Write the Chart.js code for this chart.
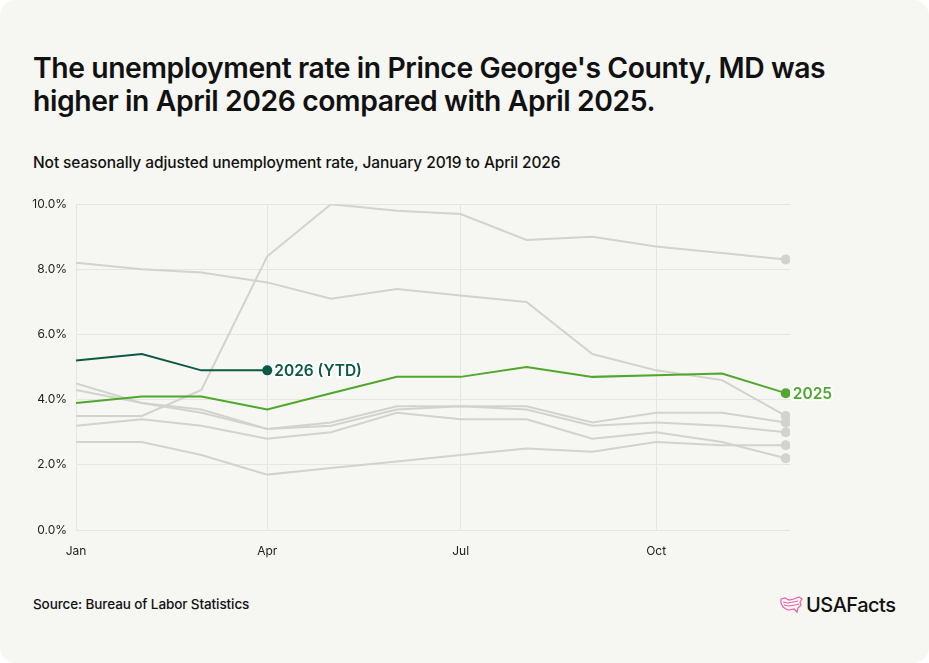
<!DOCTYPE html>
<html lang="en">
<head>
<meta charset="UTF-8">
<title>Prince George's County unemployment</title>
<script src="https://cdn.jsdelivr.net/npm/chart.js"></script>
<style>
    body { margin: 0; background: #ffffff; font-family: 'Inter', 'Roboto', sans-serif; }
    .card {
        position: absolute; left: 0; top: 0; width: 929px; height: 663px;
        background: #f6f6f2; border-radius: 16px; overflow: hidden;
    }
    h1 {
        position: absolute; left: 33px; top: 52px; margin: 0; width: 890px;
        font-size: 28.3px; line-height: 33px; font-weight: 600; color: #111;
        letter-spacing: -0.4px;
    }
    .sub {
        position: absolute; left: 33px; top: 153px; margin: 0;
        font-size: 15.5px; font-weight: 500; color: #111; letter-spacing: -0.1px;
    }
    .chart-box { position: absolute; left: 20px; top: 188px; width: 880px; height: 382px; }
    .source {
        position: absolute; left: 33px; top: 596px;
        font-size: 13.5px; font-weight: 500; color: #111; letter-spacing: -0.1px;
    }
    .logo {
        position: absolute; left: 780px; top: 593px; display: flex; align-items: center; gap: 3px;
        font-size: 20px; font-weight: 500; color: #111; letter-spacing: -0.5px;
    }
</style>
</head>
<body>
<div class="card">
    <h1>The unemployment rate in Prince George's County, MD was<br>higher in April 2026 compared with April 2025.</h1>
    <p class="sub">Not seasonally adjusted unemployment rate, January 2019 to April 2026</p>
    <div class="chart-box"><canvas id="chart" width="880" height="382"></canvas></div>
    <div class="source">Source: Bureau of Labor Statistics</div>
    <div class="logo">
        <svg width="23" height="18" viewBox="0 0 23 18">
            <path d="M1 3 L5 2 L9 4 L14 3 L19 1 L22 3 L20 6 L21 9 L18 12 L17 16 L14 13 L9 14 L6 13 L3 11 L1 7 Z"
                  fill="none" stroke="#ec5fa5" stroke-width="1.2"/>
            <path d="M3 6 L8 7 L13 6 L18 5 M4 9 L9 10 L15 9 L19 8" fill="none" stroke="#ec5fa5" stroke-width="1"/>
        </svg>
        <span>USAFacts</span>
    </div>
</div>

<script>
    const months = ['Jan', 'Feb', 'Mar', 'Apr', 'May', 'Jun', 'Jul', 'Aug', 'Sep', 'Oct', 'Nov', 'Dec'];
    const tickMonths = [0, 3, 6, 9];
    const tickLabels = ['Jan', 'Apr', 'Jul', 'Oct'];
    const yTicks = [0, 2, 4, 6, 8, 10];

    const rate2026 = [5.2, 5.4, 4.9, 4.9];
    const rate2025 = [3.9, 4.1, 4.1, 3.7, 4.2, 4.7, 4.7, 5.0, 4.7, 4.75, 4.8, 4.2];
    const rate2024 = [4.3, 3.9, 3.6, 3.1, 3.2, 3.7, 3.8, 3.7, 3.2, 3.3, 3.2, 3.0];
    const rate2023 = [2.7, 2.7, 2.3, 1.7, 1.9, 2.1, 2.3, 2.5, 2.4, 2.7, 2.6, 2.6];
    const rate2022 = [4.5, 3.9, 3.7, 3.1, 3.3, 3.8, 3.8, 3.8, 3.3, 3.6, 3.6, 3.3];
    const rate2021 = [8.2, 8.0, 7.9, 7.6, 7.1, 7.4, 7.2, 7.0, 5.4, 4.9, 4.6, 3.5];
    const rate2020 = [3.5, 3.5, 4.3, 8.4, 10.0, 9.8, 9.7, 8.9, 9.0, 8.7, 8.5, 8.3];
    const rate2019 = [3.2, 3.4, 3.2, 2.8, 3.0, 3.6, 3.4, 3.4, 2.8, 3.0, 2.7, 2.2];

    // x position = day of year of the first of each month
    function dayOf(m) {
        return (Date.UTC(2025, m, 1) - Date.UTC(2025, 0, 1)) / 86400000;
    }
    function toPoints(arr) {
        return arr.map((v, i) => ({ x: dayOf(i), y: v }));
    }

    const GRAY = '#d2d2ce';
    const GREEN = '#4fa72b';
    const DARK = '#0c5a46';

    function series(label, arr, color, endLabel) {
        return {
            label: label,
            data: toPoints(arr),
            borderColor: color,
            backgroundColor: color,
            borderWidth: 2,
            tension: 0,
            endLabel: endLabel,
            pointRadius: ctx => ctx.dataIndex === arr.length - 1 ? 5 : 0,
            pointBorderWidth: 0,
            pointHoverRadius: 0
        };
    }

    const endLabels = {
        id: 'endLabels',
        afterDatasetsDraw(chart) {
            const ctx = chart.ctx;
            chart.data.datasets.forEach((ds, i) => {
                if (!ds.endLabel) return;
                const meta = chart.getDatasetMeta(i);
                const pt = meta.data[meta.data.length - 1];
                ctx.save();
                ctx.font = '600 15.5px Inter, sans-serif';
                ctx.textBaseline = 'middle';
                ctx.lineJoin = 'round';
                ctx.lineWidth = 4;
                ctx.strokeStyle = '#ffffff';
                ctx.strokeText(ds.endLabel, pt.x + 7, pt.y + 1);
                ctx.fillStyle = ds.borderColor;
                ctx.fillText(ds.endLabel, pt.x + 7, pt.y + 1);
                ctx.restore();
            });
        }
    };

    new Chart(document.getElementById('chart'), {
        type: 'line',
        data: {
            datasets: [
                series('2026', rate2026, DARK, '2026 (YTD)'),
                series('2025', rate2025, GREEN, '2025'),
                series('2024', rate2024, GRAY),
                series('2023', rate2023, GRAY),
                series('2022', rate2022, GRAY),
                series('2021', rate2021, GRAY),
                series('2020', rate2020, GRAY),
                series('2019', rate2019, GRAY)
            ]
        },
        plugins: [endLabels],
        options: {
            responsive: false,
            animation: false,
            layout: { padding: { top: 9, right: 110, left: 0, bottom: 0 } },
            plugins: {
                legend: { display: false },
                tooltip: { enabled: false }
            },
            scales: {
                x: {
                    type: 'linear',
                    min: 0,
                    max: 336,
                    afterBuildTicks: scale => {
                        scale.ticks = tickMonths.map(m => ({ value: dayOf(m) }));
                    },
                    afterFit: scale => { scale.height = 40; },
                    grid: { color: '#e5e5e2', drawTicks: false },
                    border: { display: false },
                    ticks: {
                        padding: 14,
                        color: '#222',
                        font: { family: 'Inter', size: 12 },
                        callback: value => tickLabels[tickMonths.findIndex(m => dayOf(m) === value)]
                    }
                },
                y: {
                    min: 0,
                    max: 10,
                    afterBuildTicks: scale => {
                        scale.ticks = yTicks.map(v => ({ value: v }));
                    },
                    afterFit: scale => { scale.width = 56; },
                    grid: { color: '#e5e5e2', drawTicks: false },
                    border: { display: false },
                    ticks: {
                        padding: 9,
                        color: '#222',
                        font: { family: 'Inter', size: 12 },
                        callback: v => v.toFixed(1) + '%'
                    }
                }
            }
        }
    });
</script>
</body>
</html>
